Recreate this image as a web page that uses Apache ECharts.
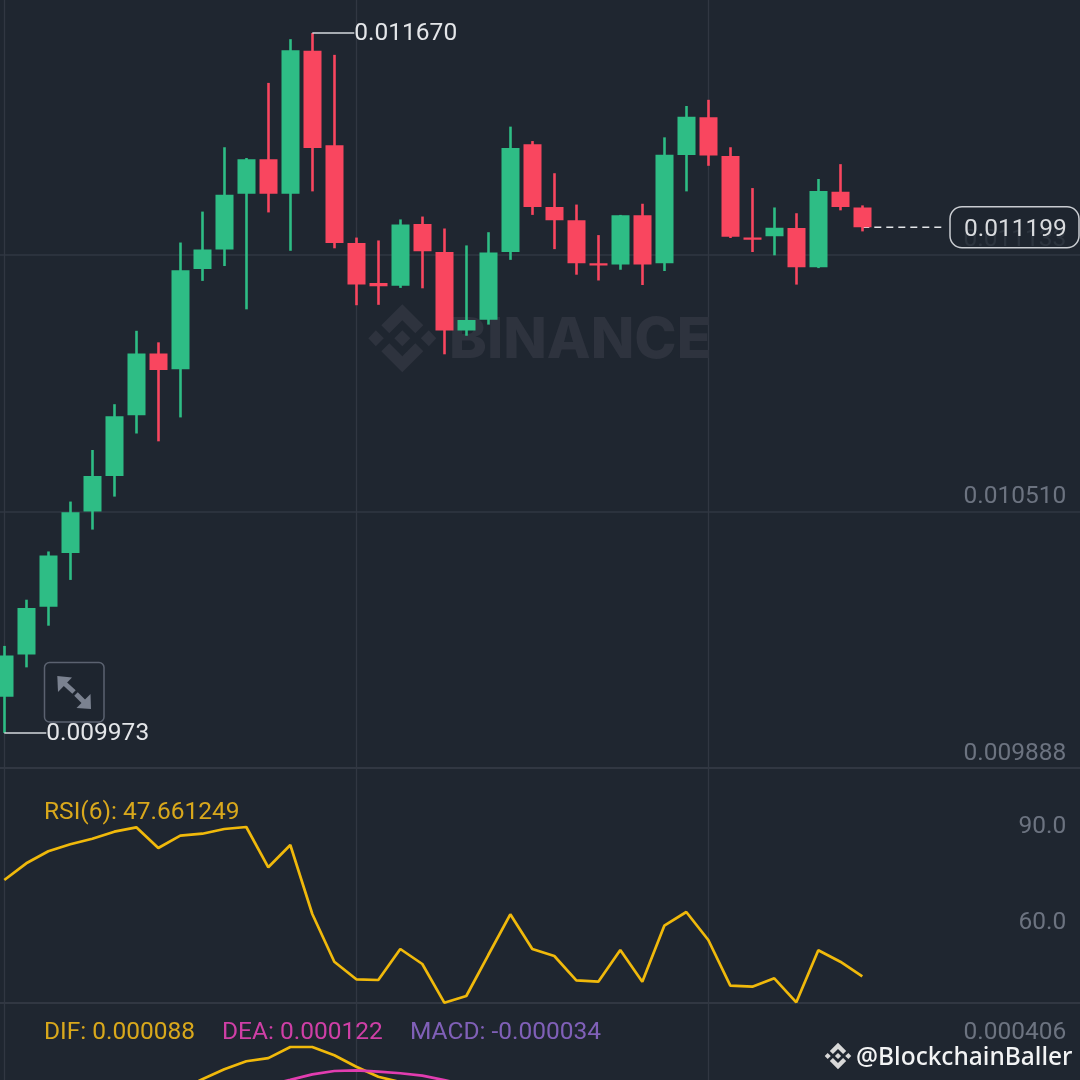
<!DOCTYPE html>
<html>
<head>
<meta charset="utf-8">
<title>Candles</title>
<script src="https://cdn.jsdelivr.net/npm/echarts@6/dist/echarts.min.js"></script>
<style>
  html, body { margin: 0; padding: 0; background: #1f2630; }
  #main { width: 1080px; height: 1080px; }
</style>
</head>
<body>
<div id="main"></div>
<script>
// prices
const openPrices = [
  0.010061,0.010163,0.010279,0.010409,0.010510,0.010596,0.010743,0.010893,0.010855,0.011098,
  0.011145,0.011280,0.011364,0.011280,0.011627,0.011398,0.011161,0.011064,0.011057,0.011207,
  0.011139,0.010949,0.010975,0.011139,0.011400,0.011248,0.011216,0.011112,0.011109,0.011228,
  0.011112,0.011374,0.011466,0.011372,0.011174,0.011177,0.011197,0.011102,0.011285,0.011247
];
const closePrices = [
  0.010161,0.010276,0.010403,0.010508,0.010596,0.010741,0.010893,0.010853,0.011095,0.011145,
  0.011278,0.011364,0.011280,0.011628,0.011391,0.011161,0.011060,0.011056,0.011206,0.011141,
  0.010949,0.010974,0.011138,0.011391,0.011248,0.011216,0.011112,0.011106,0.011228,0.011109,
  0.011375,0.011467,0.011373,0.011176,0.011169,0.011198,0.011102,0.011287,0.011248,0.011199
];
const lowPrices = [
  0.009973,0.010132,0.010233,0.010344,0.010466,0.010546,0.010699,0.010680,0.010738,0.011069,
  0.011105,0.011000,0.011235,0.011142,0.011286,0.011148,0.011010,0.011011,0.011052,0.011051,
  0.010891,0.010936,0.010963,0.011120,0.011229,0.011146,0.011084,0.011070,0.011096,0.011059,
  0.011093,0.011286,0.011348,0.011173,0.011139,0.011131,0.011060,0.011100,0.011240,0.011189
];
const highPrices = [
  0.010184,0.010296,0.010413,0.010534,0.010659,0.010770,0.010948,0.010920,0.011162,0.011237,
  0.011393,0.011367,0.011549,0.011655,0.011670,0.011617,0.011174,0.011167,0.011218,0.011225,
  0.011196,0.011155,0.011187,0.011443,0.011408,0.011330,0.011254,0.011180,0.011229,0.011256,
  0.011417,0.011493,0.011508,0.011393,0.011294,0.011247,0.011233,0.011316,0.011352,0.011252
];
const rsiValues = [
  77.81,83.03,86.78,88.97,90.72,92.91,94.28,87.81,91.66,92.28,
  93.75,94.38,81.78,88.75,67.19,52.28,46.78,46.56,56.25,51.56,
  39.47,41.56,54.37,67.09,56.25,54.06,46.47,46.03,55.94,46.03,
  63.53,67.81,59.06,44.78,44.47,47.09,39.59,55.84,52.28,47.66
];
// only the top of the MACD pane is on the canvas
const difValues = [
  null,null,null,null,null,null,null,null,0.000212,0.000261,
  0.000306,0.000342,0.000356,0.000406,0.000406,0.000369,0.000317,0.000272,0.000248
];
const deaValues = [
  null,null,null,null,null,null,null,null,null,null,
  null,null,0.000235,0.000258,0.000283,0.000298,0.000301,0.000295,0.000288,0.000277,
  0.000257,0.000235
];
const priceTicks = [0.009888, 0.010510, 0.011133];
const rsiTicks = [60, 90];
const macdTicks = [0.000406];

const barCount = 52;   // one empty slot before the first candle, the rest runs off the right side
const categories = [];
for (let i = 0; i < barCount; i++) categories.push('bar' + i);

const bg = '#1f2630';
const lineColor = '#313742';
const labelColor = '#6c7380';
const up = '#2ebd85';
const down = '#f9465f';
const yellow = '#f0b90b';
const fontName = 'Roboto';

const candleData = [[NaN, NaN, NaN, NaN]];
openPrices.forEach(function (o, i) {
  candleData.push([o, closePrices[i], lowPrices[i], highPrices[i]]);
});
function shifted(arr) {
  return [null].concat(arr);
}

function xAxisFor(gridIndex, withLine) {
  return {
    type: 'category',
    gridIndex: gridIndex,
    data: categories,
    boundaryGap: false,
    axisLabel: { show: false },
    axisTick: { show: false },
    axisLine: { show: withLine, lineStyle: { color: lineColor, width: 2 } },
    splitLine: {
      show: true,
      interval: function (index) { return index < 40 && (index - 1) % 16 === 0; },
      lineStyle: { color: lineColor, width: 1.3 }
    }
  };
}
function yAxisFor(gridIndex, min, max, ticks, digits, withSplit) {
  return {
    type: 'value',
    gridIndex: gridIndex,
    position: 'right',
    min: min,
    max: max,
    axisLine: { show: false },
    axisTick: { show: false, customValues: ticks },
    splitLine: { show: withSplit, lineStyle: { color: lineColor, width: 1.5 } },
    axisLabel: {
      inside: true,
      customValues: ticks,
      margin: 38,
      color: labelColor,
      fontFamily: fontName,
      fontSize: 24.5,
      verticalAlign: 'bottom',
      padding: [0, 0, 2, 0],
      formatter: function (v) { return v.toFixed(digits); }
    }
  };
}

var chartDom = document.getElementById('main');
var myChart = echarts.init(chartDom, null, { renderer: 'canvas' });
var option = {
  animation: false,
  backgroundColor: bg,
  grid: [
    { left: -17.7, top: 0, width: 1122, height: 768, outerBoundsMode: 'none' },
    { left: -17.7, top: 768, width: 1122, height: 235, outerBoundsMode: 'none' },
    { left: -17.7, top: 1003, width: 1122, height: 77, outerBoundsMode: 'none' }
  ],
  xAxis: [xAxisFor(0, true), xAxisFor(1, true), xAxisFor(2, false)],
  yAxis: [
    yAxisFor(0, 0.009888, 0.01175, priceTicks, 6, true),
    yAxisFor(1, 39.375, 112.8125, rsiTicks, 1, false),
    yAxisFor(2, 0.0002575, 0.000604, macdTicks, 6, false)
  ],
  series: [
    {
      // wicks, the stroke is wider than the bodies should be so they get their own series
      name: 'K wick',
      type: 'candlestick',
      xAxisIndex: 0,
      yAxisIndex: 0,
      clip: false,
      barWidth: 0.5,
      z: 2,
      data: candleData,
      itemStyle: {
        color: up,
        color0: down,
        borderColor: up,
        borderColor0: down,
        borderWidth: 2.6
      }
    },
    {
      name: 'K',
      type: 'candlestick',
      xAxisIndex: 0,
      yAxisIndex: 0,
      clip: false,
      barWidth: 19,
      z: 3,
      data: candleData,
      itemStyle: {
        color: up,
        color0: down,
        borderWidth: 0
      }
    },
    {
      name: 'RSI(6)',
      type: 'line',
      xAxisIndex: 1,
      yAxisIndex: 1,
      data: shifted(rsiValues),
      symbol: 'none',
      clip: false,
      lineStyle: { color: yellow, width: 2.7 }
    },
    {
      name: 'DIF',
      type: 'line',
      xAxisIndex: 2,
      yAxisIndex: 2,
      data: shifted(difValues),
      symbol: 'none',
      lineStyle: { color: yellow, width: 2.7 }
    },
    {
      name: 'DEA',
      type: 'line',
      xAxisIndex: 2,
      yAxisIndex: 2,
      data: shifted(deaValues),
      symbol: 'none',
      lineStyle: { color: '#e23db0', width: 2.7 }
    }
  ]
};
myChart.setOption(option);

function text(str, x, y, fill, font, z) {
  return {
    type: 'text',
    z: z || 10,
    silent: true,
    style: { text: str, x: x, y: y, fill: fill, font: font, textAlign: 'left', textVerticalAlign: 'middle' }
  };
}
function poly(points, fill, z) {
  return { type: 'polygon', z: z, silent: true, shape: { points: points }, style: { fill: fill } };
}
function logo(cx, cy, s, fill, z) {
  // binance mark, s = scale of the 34 unit half height
  function p(list) {
    return list.map(function (q) { return [cx + q[0] * s, cy + q[1] * s]; });
  }
  return [
    poly(p([[0, -34], [21, -13], [13, -5], [0, -18], [-13, -5], [-21, -13]]), fill, z),
    poly(p([[0, 34], [21, 13], [13, 5], [0, 18], [-13, 5], [-21, 13]]), fill, z),
    poly(p([[0, -8], [8, 0], [0, 8], [-8, 0]]), fill, z),
    poly(p([[-26.5, -8], [-18.5, 0], [-26.5, 8], [-34, 0]]), fill, z),
    poly(p([[26.5, -8], [34, 0], [26.5, 8], [18.5, 0]]), fill, z)
  ];
}

// leader lines and the last price tag hang off the data
const hiIdx = highPrices.indexOf(Math.max.apply(null, highPrices));
const loIdx = lowPrices.indexOf(Math.min.apply(null, lowPrices));
const lastIdx = closePrices.length - 1;
const hiPt = myChart.convertToPixel({ gridIndex: 0 }, [categories[hiIdx + 1], highPrices[hiIdx]]);
const loPt = myChart.convertToPixel({ gridIndex: 0 }, [categories[loIdx + 1], lowPrices[loIdx]]);
const lastPt = myChart.convertToPixel({ gridIndex: 0 }, [categories[lastIdx + 1], closePrices[lastIdx]]);

const leaderColor = '#d5d8dc';
const bigFont = '24.5px ' + fontName;
const elements = []
  .concat(logo(402.3, 338.3, 1, '#2e333e', 1))
  .concat([
    text('BINANCE', 449, 341, '#2e333e', '800 57px Inter', 1),
    { type: 'line', z: 10, silent: true, shape: { x1: hiPt[0], y1: hiPt[1], x2: hiPt[0] + 42, y2: hiPt[1] }, style: { stroke: leaderColor, lineWidth: 1.5 } },
    text(highPrices[hiIdx].toFixed(6), hiPt[0] + 42, hiPt[1] + 1, '#e4e6e9', bigFont),
    { type: 'line', z: 10, silent: true, shape: { x1: loPt[0], y1: loPt[1], x2: loPt[0] + 42, y2: loPt[1] }, style: { stroke: leaderColor, lineWidth: 1.5 } },
    text(lowPrices[loIdx].toFixed(6), loPt[0] + 42, loPt[1] + 1, '#e4e6e9', bigFont),
    { type: 'line', z: 1, silent: true, shape: { x1: lastPt[0], y1: lastPt[1], x2: 945, y2: lastPt[1] }, style: { stroke: '#e4e6e9', lineWidth: 1.5, lineDash: [7, 5] } },
    { type: 'rect', z: 9, silent: true, shape: { x: 950, y: lastPt[1] - 20.5, width: 129, height: 41, r: 12 }, style: { fill: 'rgba(31,38,48,0.82)', stroke: '#c9ccd1', lineWidth: 1.5 } },
    text(closePrices[lastIdx].toFixed(6), 964, lastPt[1] + 3, '#d9dbde', bigFont),
    // fullscreen button
    { type: 'rect', z: 10, silent: true, shape: { x: 44.5, y: 662.5, width: 59.5, height: 59.5, r: 5 }, style: { fill: 'rgba(31,38,48,0.4)', stroke: '#5b6270', lineWidth: 1.5 } },
    poly([[57.3, 676], [72, 677.5], [58, 692]], '#7b8290', 11),
    { type: 'line', z: 11, silent: true, shape: { x1: 63, y1: 682, x2: 74, y2: 692 }, style: { stroke: '#7b8290', lineWidth: 5 } },
    poly([[91, 709], [76.5, 708], [90.5, 694]], '#7b8290', 11),
    { type: 'line', z: 11, silent: true, shape: { x1: 76, y1: 694, x2: 85, y2: 703 }, style: { stroke: '#7b8290', lineWidth: 5 } },
    // pane legends
    text('RSI(6): 47.661249', 44, 813, '#d9a81c', bigFont),
    text('DIF: 0.000088', 44, 1033, '#d9a81c', bigFont),
    text('DEA: 0.000122', 222, 1033, '#cf3fa6', bigFont),
    text('MACD: -0.000034', 410, 1033, '#8060b8', bigFont),
    // credit
    text('@BlockchainBaller', 856, 1058, '#f2f3f4', '500 24.5px "Noto Sans"', 12)
  ])
  .concat(logo(838, 1056, 0.39, '#d8d8d8', 12));
myChart.setOption({ graphic: { elements: elements } });
</script>
</body>
</html>
